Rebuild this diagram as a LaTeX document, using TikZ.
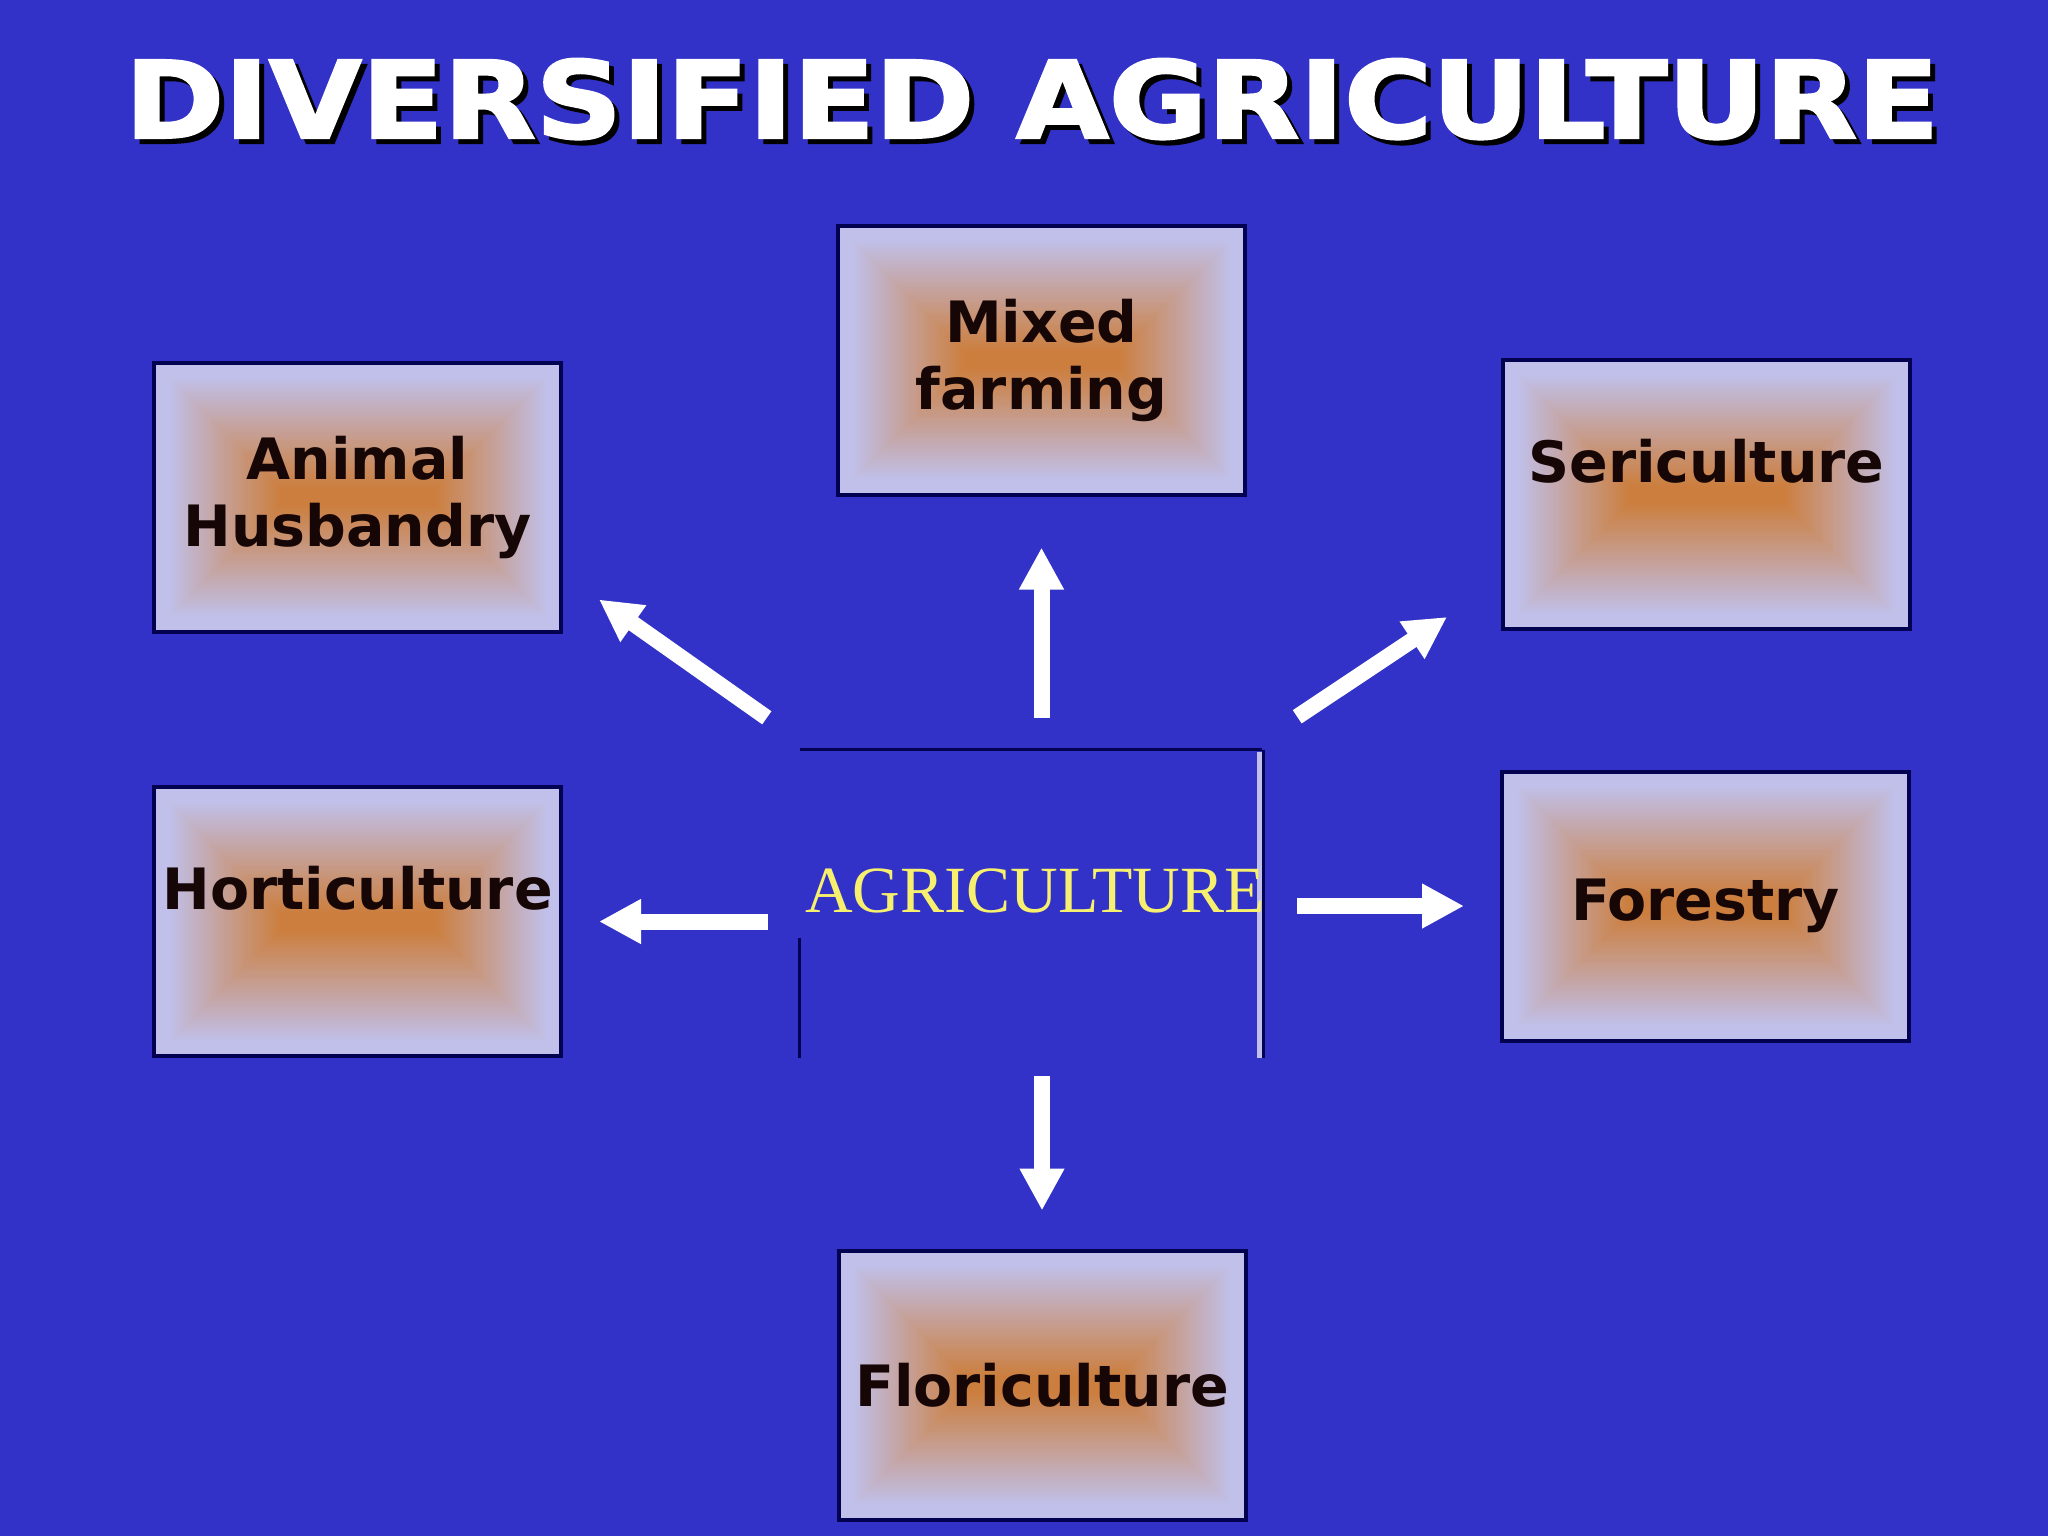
\documentclass[tikz,border=0pt]{standalone}
\usepackage{fontspec}
\usepackage{tikz}
\usetikzlibrary{positioning,calc,arrows.meta}
\newfontfamily\boxfont{DejaVu Sans}
\newfontfamily\titlefam{DejaVu Sans}[FakeBold=2]
\newfontfamily\agrifont{Liberation Serif}
\definecolor{bgblue}{RGB}{50,50,200}
\definecolor{boxedge}{RGB}{192,192,234}
\definecolor{boxcore}{RGB}{204,126,62}
\definecolor{boxline}{RGB}{2,2,80}
\definecolor{agriyellow}{RGB}{246,240,110}
\definecolor{boxtext}{RGB}{22,6,6}

\begin{document}
\begin{tikzpicture}[x=1pt,y=-1pt,
		box/.style={draw=boxline,line width=4pt,fill=boxedge,minimum width=407pt,minimum height=269pt,inner sep=0pt,align=center,text=boxtext,
			font={\boxfont\bfseries\fontsize{57}{67}\selectfont},
			path picture={
				\foreach \k in {0,...,67}{
					\pgfmathsetmacro\inset{2*\k}
					\pgfmathsetmacro\mixp{min(100,max(0,(\inset-14)/1.12))}
					\fill[boxcore!\mixp!boxedge] ($(path picture bounding box.center)+(-204+\inset,-135+\inset)$) rectangle ($(path picture bounding box.center)+(204-\inset,135-\inset)$);
				}
			}},
		flow/.style={-{Triangle[width=42pt,length=42pt]},white,line width=16pt},
		agriline/.style={boxline,line width=3pt},
		titlefont/.style={font={\titlefam\bfseries\fontsize{107}{120}\selectfont}}]
		\useasboundingbox (0,0) rectangle (2048,1536);
		\fill[bgblue] (0,0) rectangle (2048,1536);
		%title
		\node[titlefont,anchor=base,text=black] (titleshadow) at (1037,143) {\scalebox{1.12}[1]{DIVERSIFIED AGRICULTURE}};
		\node[titlefont,anchor=base,text=white] (title) at (1032,138) {\scalebox{1.12}[1]{DIVERSIFIED AGRICULTURE}};
		%boxes
		\node[box] (mixed) at (1041.5,360) {Mixed\\farming};
		\node[box] (animal) at (357.5,497) {Animal\\Husbandry};
		\node[box] (seri) at (1706.5,494.5) {Sericulture\\};
		\node[box] (horti) at (357.5,921.5) {Horticulture\\};
		\node[box] (forest) at (1705.5,906) {Forestry};
		\node[box] (flori) at (1042,1385) {Floriculture};
		%centre
		\node[minimum width=462pt,minimum height=308pt,inner sep=0pt] (agri) at (1031,904) {};
		\draw[boxline,line width=3pt] ([xshift=1pt]agri.north east) -- ([xshift=1pt]agri.south east);
		\draw[boxedge,line width=5pt] ([xshift=-2.5pt,yshift=-2pt]agri.north east) -- ([xshift=-2.5pt]agri.south east);
		\draw[agriline] (agri.north west) -- (agri.north east);
		\draw[agriline] (agri.south west) -- ++(0,-120);
		\node[anchor=base,text=agriyellow,font={\agrifont\fontsize{66}{70}\selectfont},inner sep=0pt] (agritext) at ([xshift=4pt,yshift=-8pt]agri.center) {AGRICULTURE};
		%arrows
		\draw[flow,shorten <=32pt,shorten >=51pt] (agri.north -| mixed.south) -- (mixed.south);
		\draw[flow,shorten <=18pt,shorten >=38pt] (agri.south -| flori.north) -- (flori.north);
		\draw[flow,shorten <=32pt,shorten >=36pt] (agri.west |- horti.east) -- (horti.east);
		\draw[flow,shorten <=35pt,shorten >=36pt] (agri.east |- forest.west) -- (forest.west);
		\draw[flow] ($(agri.north west)+(-33,-32)$) -- ($(animal.south east)+(36,-34)$);
		\draw[flow] ($(agri.north east)+(35,-33)$) -- ($(seri.south west)+(-54,-14)$);
	\end{tikzpicture}
\end{document}
